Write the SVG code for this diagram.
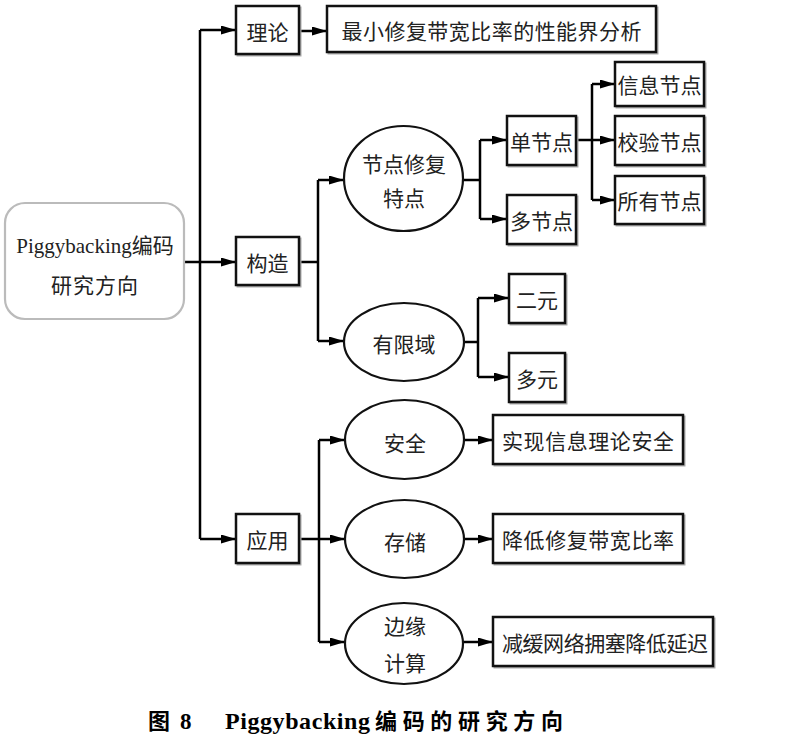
<svg xmlns="http://www.w3.org/2000/svg" width="792" height="749" viewBox="0 0 792 749">
<defs>
<marker id="ah" markerUnits="userSpaceOnUse" markerWidth="16" markerHeight="10" refX="15" refY="4.5" orient="auto">
<path d="M0,0 L15,4.5 L0,9 z" fill="#000"/>
</marker>
<style>
.bx{fill:#fff;stroke:#111;stroke-width:2.5}
.sh{fill:none;stroke:#aaa;stroke-width:2}
.el{fill:#fff;stroke:#111;stroke-width:2.2}
.t{font-family:"Noto Sans CJK SC","Liberation Sans",sans-serif;font-size:21px;fill:#222;text-anchor:middle;dominant-baseline:central}
.ln{fill:none;stroke:#000;stroke-width:2.5}
.ar{marker-end:url(#ah)}
.cap{font-family:"Liberation Serif","Noto Sans CJK SC",serif;font-weight:bold;fill:#000}
</style>
</defs>
<rect width="792" height="749" fill="#fff"/>

<g id="connectors">
<path class="ln" d="M200,30 V539"/>
<path class="ln ar" d="M200,30 H236"/>
<path class="ln ar" d="M184,262 H236"/>
<path class="ln ar" d="M200,539 H236"/>
<path class="ln ar" d="M299,31 H327"/>
<path class="ln" d="M299,262 H318 M318,180 V341"/>
<path class="ln ar" d="M318,180 H344"/>
<path class="ln ar" d="M318,341 H344"/>
<path class="ln" d="M463,180 H480 M480,140 V219"/>
<path class="ln ar" d="M480,140 H507"/>
<path class="ln ar" d="M480,219 H507"/>
<path class="ln ar" d="M576,140 H615"/>
<path class="ln" d="M592,84 V200"/>
<path class="ln ar" d="M592,84 H615"/>
<path class="ln ar" d="M592,200 H615"/>
<path class="ln" d="M464,342 H478 M478,298 V377"/>
<path class="ln ar" d="M478,298 H509"/>
<path class="ln ar" d="M478,377 H509"/>
<path class="ln" d="M299,539 H319 M319,440 V642"/>
<path class="ln ar" d="M319,440 H345"/>
<path class="ln ar" d="M319,539 H345"/>
<path class="ln ar" d="M319,642 H345"/>
<path class="ln ar" d="M464,440 H493"/>
<path class="ln ar" d="M464,539 H493"/>
<path class="ln ar" d="M463,642 H493"/>
</g>

<g id="root">
<rect x="5" y="203" width="179" height="116" rx="20" ry="20" fill="#fff" stroke="#bbb" stroke-width="2.2"/>
<text x="95" y="246" font-family="'Liberation Serif','Noto Sans CJK SC',serif" font-size="21" fill="#222" text-anchor="middle" dominant-baseline="central">Piggybacking编码</text>
<text class="t" x="95" y="284" font-size="20" letter-spacing="1">研究方向</text>
</g>

<g id="n-lilun">
<rect class="sh" x="237.5" y="7.5" width="63" height="48"/>
<rect class="bx" x="236" y="6" width="63" height="48"/>
<text class="t" x="267.5" y="31">理论</text>
</g>
<g id="n-zuixiao">
<rect class="sh" x="328.5" y="7.5" width="329" height="46"/>
<rect class="bx" x="327" y="6" width="329" height="46"/>
<text class="t" x="491.5" y="30" textLength="300">最小修复带宽比率的性能界分析</text>
</g>
<g id="n-gouzao">
<rect class="sh" x="237.5" y="238.5" width="63" height="48"/>
<rect class="bx" x="236" y="237" width="63" height="48"/>
<text class="t" x="267.5" y="262">构造</text>
</g>
<g id="n-yingyong">
<rect class="sh" x="237.5" y="515.5" width="63" height="49"/>
<rect class="bx" x="236" y="514" width="63" height="49"/>
<text class="t" x="267.5" y="539">应用</text>
</g>

<g id="n-jiedianxiufu">
<ellipse class="el" cx="403.5" cy="178.5" rx="59.5" ry="52.5"/>
<text class="t" x="404" y="163">节点修复</text>
<text class="t" x="404" y="197">特点</text>
</g>
<g id="n-youxianyu">
<ellipse class="el" cx="404" cy="342" rx="60" ry="39"/>
<text class="t" x="404" y="343">有限域</text>
</g>

<g id="n-danjiedian">
<rect class="sh" x="508.5" y="117.5" width="69" height="49"/>
<rect class="bx" x="507" y="116" width="69" height="49"/>
<text class="t" x="541.5" y="140.5">单节点</text>
</g>
<g id="n-duojiedian">
<rect class="sh" x="508.5" y="196.5" width="69" height="49"/>
<rect class="bx" x="507" y="195" width="69" height="49"/>
<text class="t" x="541.5" y="219.5">多节点</text>
</g>
<g id="n-xinxi">
<rect class="sh" x="616.5" y="63.5" width="89" height="44"/>
<rect class="bx" x="615" y="62" width="89" height="44"/>
<text class="t" x="659.5" y="84">信息节点</text>
</g>
<g id="n-jiaoyan">
<rect class="sh" x="616.5" y="117.5" width="89" height="49"/>
<rect class="bx" x="615" y="116" width="89" height="49"/>
<text class="t" x="659.5" y="140.5">校验节点</text>
</g>
<g id="n-suoyou">
<rect class="sh" x="616.5" y="177.5" width="89" height="48"/>
<rect class="bx" x="615" y="176" width="89" height="48"/>
<text class="t" x="659.5" y="200">所有节点</text>
</g>
<g id="n-eryuan">
<rect class="sh" x="510.5" y="275.5" width="56" height="49"/>
<rect class="bx" x="509" y="274" width="56" height="49"/>
<text class="t" x="537" y="298.5">二元</text>
</g>
<g id="n-duoyuan">
<rect class="sh" x="510.5" y="354.5" width="56" height="49"/>
<rect class="bx" x="509" y="353" width="56" height="49"/>
<text class="t" x="537" y="377.5">多元</text>
</g>

<g id="n-anquan">
<ellipse class="el" cx="404.5" cy="439.5" rx="59.5" ry="39.5"/>
<text class="t" x="405" y="442">安全</text>
</g>
<g id="n-cunchu">
<ellipse class="el" cx="404.5" cy="539" rx="59.5" ry="39"/>
<text class="t" x="405" y="541">存储</text>
</g>
<g id="n-bianyuan">
<ellipse class="el" cx="404" cy="643.5" rx="59" ry="40.5"/>
<text class="t" x="405" y="625">边缘</text>
<text class="t" x="405" y="662">计算</text>
</g>

<g id="n-shixian">
<rect class="sh" x="494.5" y="416.5" width="190" height="49"/>
<rect class="bx" x="493" y="415" width="190" height="49"/>
<text class="t" x="588" y="439.5" textLength="172">实现信息理论安全</text>
</g>
<g id="n-jiangdi">
<rect class="sh" x="494.5" y="515.5" width="190" height="49"/>
<rect class="bx" x="493" y="514" width="190" height="49"/>
<text class="t" x="588" y="538.5" textLength="172">降低修复带宽比率</text>
</g>
<g id="n-jianhuan">
<rect class="sh" x="494.5" y="618.5" width="220" height="49"/>
<rect class="bx" x="493" y="617" width="220" height="49"/>
<text class="t" x="605" y="641.5" textLength="206">减缓网络拥塞降低延迟</text>
</g>

<g id="caption">
<text class="cap" x="148" y="729" font-size="22" font-family="'Noto Sans CJK SC',sans-serif">图</text>
<text class="cap" x="180" y="729" font-size="23">8</text>
<text class="cap" x="225" y="729" font-size="24" textLength="145">Piggybacking</text>
<text class="cap" x="375" y="729" font-size="22" font-family="'Noto Sans CJK SC',sans-serif" textLength="188">编码的研究方向</text>
</g>
</svg>
